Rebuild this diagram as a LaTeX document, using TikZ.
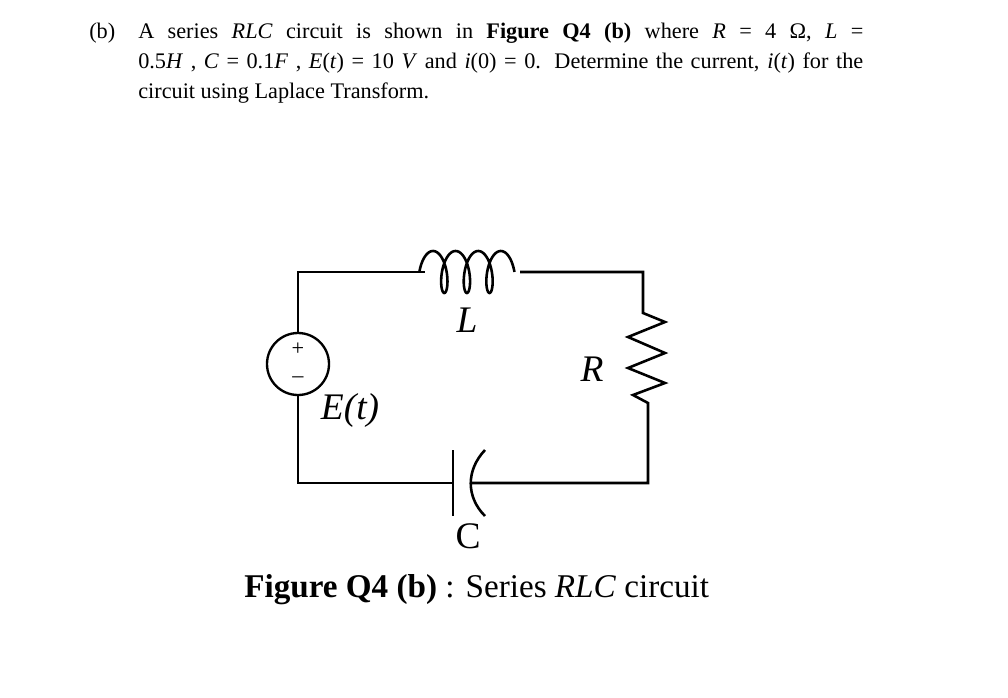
\documentclass[tikz,border=0pt]{standalone}
\usepackage{fontspec}
\setmainfont{Liberation Serif}
\begin{document}
\begin{tikzpicture}[x=0.03cm,y=-0.03cm,line width=2.2pt,
  txt/.style={anchor=base west,inner sep=0pt,font=\fontsize{19}{25}\selectfont},
  lbl/.style={inner sep=0pt,font=\fontsize{32}{36}\selectfont\itshape}]
\useasboundingbox (0,0) rectangle (1008,697);
\fill[white] (0,0) rectangle (1008,697);
% question text
\node[txt] (qb) at (88,38) {(b)};
\node[txt] (l1) at (137,38) {\makebox[21.75cm][s]{A series \textit{RLC} circuit is shown in \textbf{Figure Q4 (b)} where \textit{R} = 4 Ω, \textit{L} =}};
\node[txt] (l2) at (137,68) {\makebox[21.75cm][s]{0.5\textit{H} , \textit{C} = 0.1\textit{F} , \textit{E}(\textit{t}) = 10 \textit{V} and \textit{i}(0) = 0. Determine the current, \textit{i}(\textit{t}) for the}};
\node[txt] (l3) at (137,98) {circuit using Laplace Transform.};
% circuit
\coordinate (tl) at (298,272);
\coordinate (li) at (425,272);
\coordinate (lo) at (520,272);
\coordinate (tr) at (643,272);
\coordinate (rt) at (643,313);
\coordinate (rb) at (648,403);
\coordinate (br) at (648,483);
\coordinate (bl) at (298,483);
\coordinate (ca) at (453,483);
\coordinate (cb) at (470,483);
\node[circle,draw,line width=2pt,minimum size=62*0.03cm,inner sep=0pt] (src) at (298,364) {};
\node[inner sep=0pt,font=\fontsize{19}{19}\selectfont] (plus) at (298,349) {+};
\node[inner sep=0pt,font=\fontsize{19}{19}\selectfont] (minus) at (298,380) {–};
\draw (src.north) -- (tl) -- (li);
\draw plot[domain=-90:1170,samples=220,smooth] ({433+\x/360*22.6+8*sin(\x)},{272-21*cos(\x)});
\draw (lo) -- (tr) -- (rt) -- (665,322) -- (628,337) -- (665,353) -- (628,368) -- (665,383) -- (633,395) -- (rb) -- (br) -- (cb);
\draw (src.south) -- (bl) -- (ca);
\draw (453,450) -- (453,516);
\draw (485,450) .. controls (466,470) and (466,497) .. (485,516);
\node[lbl] (L) at (467,320) {L};
\node[lbl] (R) at (592,369) {R};
\node[lbl] (E) at (350,410) {E(t)};
\node[inner sep=0pt,font=\fontsize{32}{36}\selectfont] (C) at (468,536) {C};
\node[anchor=base west,inner sep=0pt,font=\fontsize{28.3}{32}\selectfont] (cap) at (243,597) {\textbf{Figure Q4 (b)} : Series \textit{RLC} circuit};
\end{tikzpicture}
\end{document}
